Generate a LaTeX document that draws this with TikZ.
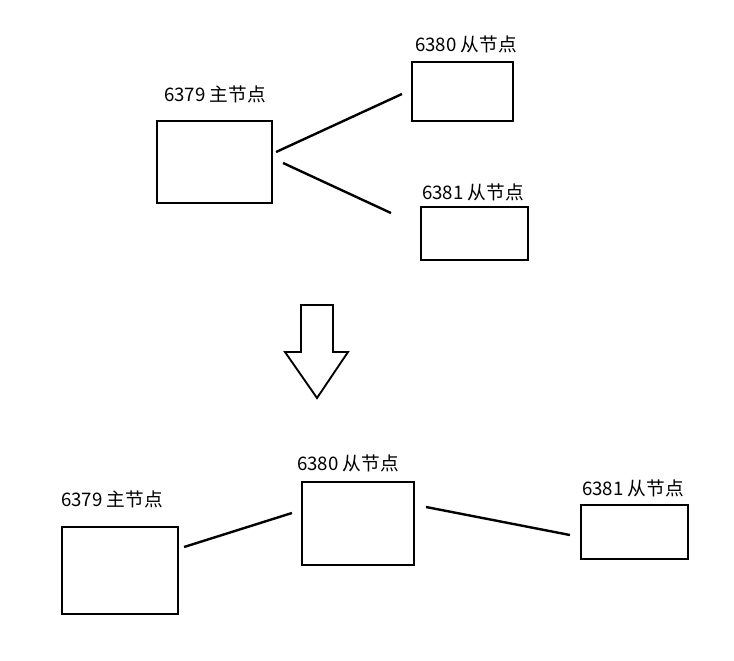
\documentclass[tikz,border=0pt]{standalone}
\usepackage{fontspec}
\setmainfont{Noto Sans CJK SC}
\usetikzlibrary{calc}
\begin{document}
\begin{tikzpicture}[x=0.75pt,y=-0.75pt,
  box/.style={draw=black,line width=1.6pt,inner sep=0pt,fill=white},
  lbl/.style={inner sep=0pt,font=\fontsize{14pt}{16pt}\selectfont},
  link/.style={line width=1.8pt},
  bigarrow/.style={draw=black,line width=1.4pt,fill=white,line join=miter}]
\useasboundingbox (0,0) rectangle (734,660);
% top group
\node[box,minimum width=115*0.75pt,minimum height=82*0.75pt] (m1) at (214.5,162) {};
\node[box,minimum width=101*0.75pt,minimum height=59*0.75pt] (s1a) at (462.5,91.5) {};
\node[box,minimum width=107*0.75pt,minimum height=53*0.75pt] (s1b) at (474.5,233.5) {};
\node[lbl] (t1) at (215,94) {6379 主节点};
\node[lbl] (t2) at (466,44) {6380 从节点};
\node[lbl] (t3) at (473,192) {6381 从节点};
\draw[link] ($(m1.east)+(3,-10)$) -- ($(s1a.west)+(-9,2.5)$);
\draw[link] ($(m1.east)+(10,1)$) -- ($(s1b.west)+(-29,-20.5)$);
% arrow
\draw[bigarrow] (301,305) -- (333,305) -- (333,352) -- (348,352) -- (317,398) -- (285,352) -- (301,352) -- cycle;
% bottom group
\node[box,minimum width=116*0.75pt,minimum height=87*0.75pt] (m2) at (120,570.5) {};
\node[box,minimum width=112*0.75pt,minimum height=83*0.75pt] (s2a) at (358,523.5) {};
\node[box,minimum width=107*0.75pt,minimum height=54*0.75pt] (s2b) at (634.5,532) {};
\node[lbl] (t4) at (112,499) {6379 主节点};
\node[lbl] (t5) at (348,463) {6380 从节点};
\node[lbl] (t6) at (633,488) {6381 从节点};
\draw[link] ($(m2.east)+(5,-23.5)$) -- ($(s2a.west)+(-9,-10.5)$);
\draw[link] ($(s2a.east)+(11,-16.5)$) -- ($(s2b.west)+(-10,3)$);
\end{tikzpicture}
\end{document}
